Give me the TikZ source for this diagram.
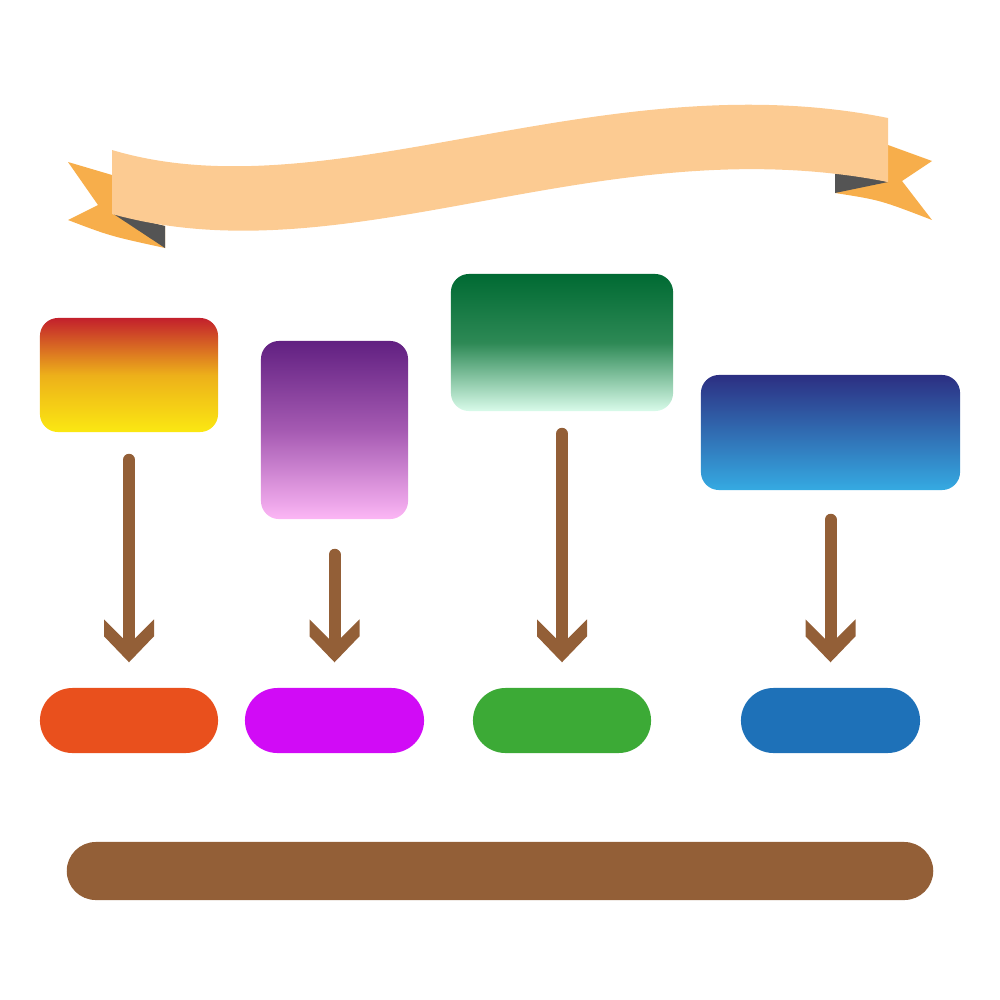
\documentclass[tikz,border=0pt]{standalone}
\usepackage{tikz}
\usetikzlibrary{positioning}

\definecolor{ribbonc}{HTML}{FCCB92}
\definecolor{tailc}{HTML}{F7AE4B}
\definecolor{foldc}{HTML}{545454}
\definecolor{brownc}{HTML}{935F37}
\definecolor{redtop}{HTML}{C3202C}
\definecolor{orangemid}{HTML}{EDB01A}
\definecolor{yellowbot}{HTML}{FBE812}
\definecolor{purpletop}{HTML}{612081}
\definecolor{purplemid}{HTML}{A55AB2}
\definecolor{pinkbot}{HTML}{FCB6F5}
\definecolor{greentop}{HTML}{006A33}
\definecolor{greenmid}{HTML}{2D8955}
\definecolor{mintbot}{HTML}{D9FBEA}
\definecolor{bluetop}{HTML}{2C2F82}
\definecolor{bluebot}{HTML}{35AAE2}
\definecolor{pillred}{HTML}{E9501D}
\definecolor{pillmag}{HTML}{D10BF6}
\definecolor{pillgreen}{HTML}{3CAA36}
\definecolor{pillblue}{HTML}{1E71B8}

\begin{document}
\begin{tikzpicture}[x=0.01cm, y=-0.01cm,
    box/.style={inner sep=0pt, rounded corners=0.18cm},
    pill/.style={inner sep=0pt, minimum height=0.65cm, rounded corners=0.325cm},
    shaft/.style={draw=brownc, line width=0.12cm, line cap=round}]
			\useasboundingbox (0,0) rectangle (1000,1000);
			% ribbon
			\fill[tailc] (112,175) -- (68,162) -- (98,205) -- (68,220) .. controls (110,236) .. (165,248) -- (165,226) -- (112,214) -- cycle;
			\fill[tailc] (888,145) -- (932,161) -- (902,181) -- (932,220) .. controls (880,200) .. (835,193) -- (835,170) -- (888,182) -- cycle;
			\fill[foldc] (112,213) -- (165,226) -- (165,248) -- cycle;
			\fill[foldc] (835,170) -- (888,182) -- (835,193) -- cycle;
			\fill[ribbonc] (112,150) .. controls (330,215) and (600,60) .. (888,118) -- (888,182) .. controls (600,125) and (350,280) .. (112,214) -- cycle;
			% boxes
			\node[box, minimum width=1.78cm, minimum height=1.14cm, top color=redtop, bottom color=yellowbot, middle color=orangemid] (box1) at (129,375) {};
			\node[box, minimum width=1.47cm, minimum height=1.78cm, top color=purpletop, bottom color=pinkbot, middle color=purplemid] (box2) at (334.5,430) {};
			\node[box, minimum width=2.22cm, minimum height=1.37cm, top color=greentop, bottom color=mintbot, middle color=greenmid] (box3) at (562,342.5) {};
			\node[box, minimum width=2.59cm, minimum height=1.15cm, top color=bluetop, bottom color=bluebot] (box4) at (830.5,432.5) {};
			% pills
			\node[pill, minimum width=1.78cm, fill=pillred] (pill1) at (129,720.5) {};
			\node[pill, minimum width=1.79cm, fill=pillmag] (pill2) at (334.5,720.5) {};
			\node[pill, minimum width=1.78cm, fill=pillgreen] (pill3) at (562,720.5) {};
			\node[pill, minimum width=1.79cm, fill=pillblue] (pill4) at (830.5,720.5) {};
			\node[inner sep=0pt, minimum width=8.66cm, minimum height=0.58cm, rounded corners=0.29cm, fill=brownc] (bar) at (500,871) {};
			% arrows
			\draw[shaft, shorten <=0.27cm, shorten >=0.40cm] (box1.south) -- (pill1.north);
			\draw[shaft, shorten <=0.35cm, shorten >=0.40cm] (box2.south) -- (pill2.north);
			\draw[shaft, shorten <=0.22cm, shorten >=0.40cm] (box3.south) -- (pill3.north);
			\draw[shaft, shorten <=0.29cm, shorten >=0.40cm] (box4.south) -- (pill4.north);
			\coordinate (t1) at ([yshift=0.25cm]pill1.north);
			\coordinate (t2) at ([yshift=0.25cm]pill2.north);
			\coordinate (t3) at ([yshift=0.25cm]pill3.north);
			\coordinate (t4) at ([yshift=0.25cm]pill4.north);
			\fill[brownc] (t1) -- ++(-25,-26) -- ++(0,-17) -- ++(25,25) -- ++(25,-25) -- ++(0,17) -- cycle;
			\fill[brownc] (t2) -- ++(-25,-26) -- ++(0,-17) -- ++(25,25) -- ++(25,-25) -- ++(0,17) -- cycle;
			\fill[brownc] (t3) -- ++(-25,-26) -- ++(0,-17) -- ++(25,25) -- ++(25,-25) -- ++(0,17) -- cycle;
			\fill[brownc] (t4) -- ++(-25,-26) -- ++(0,-17) -- ++(25,25) -- ++(25,-25) -- ++(0,17) -- cycle;
\end{tikzpicture}
\end{document}
